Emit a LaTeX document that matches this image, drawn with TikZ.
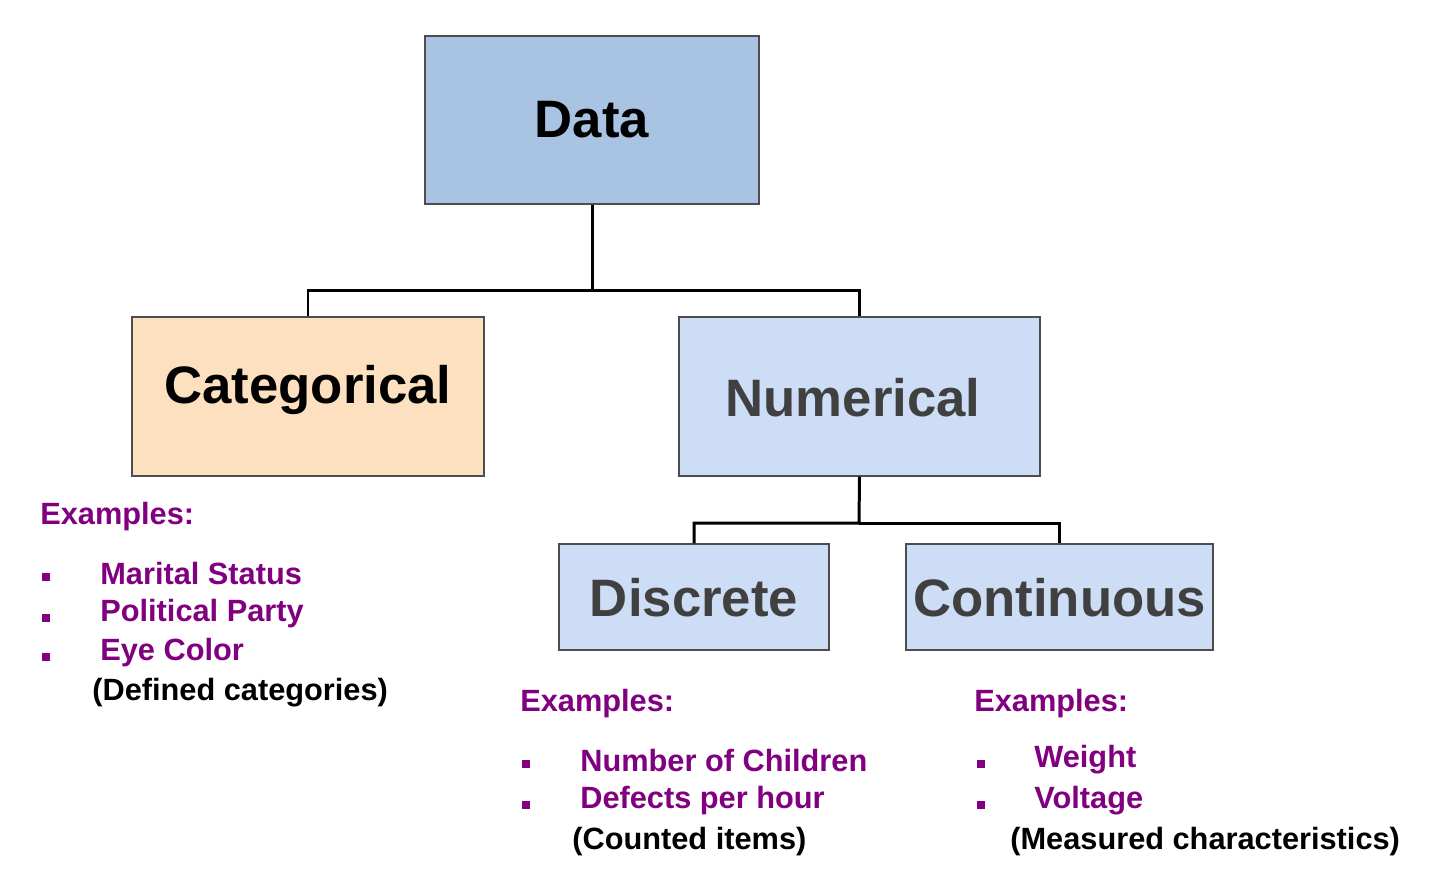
\documentclass[tikz,border=0pt]{standalone}
\usepackage{fontspec}
\setmainfont{Liberation Sans}
\usepackage[HTML]{xcolor}
\usetikzlibrary{positioning}
\definecolor{dataBlue}{HTML}{A9C4E2}
\definecolor{catOrange}{HTML}{FCE0C0}
\definecolor{numBlue}{HTML}{CCDDF5}
\definecolor{exPurple}{HTML}{800080}
\begin{document}
\begin{tikzpicture}[x=0.02cm,y=-0.02cm,
  box/.style={draw=black!70,line width=0.8pt,inner sep=0pt},
  big/.style={font=\fontsize{30}{34}\selectfont\bfseries},
  ex/.style={anchor=west,text=exPurple,font=\fontsize{17.5}{20}\selectfont\bfseries,inner sep=0pt},
  note/.style={anchor=west,font=\fontsize{17.5}{20}\selectfont\bfseries,inner sep=0pt},
  link/.style={line width=1.7pt}]
\useasboundingbox (0,0) rectangle (1432,876);
% boxes
\node[box,fill=dataBlue,minimum width=334*0.02cm,minimum height=168*0.02cm] (data) at (592,120) {};
\node[big] at (data) {Data};
\node[box,fill=catOrange,minimum width=352*0.02cm,minimum height=159*0.02cm] (cat) at (308,396.5) {};
\node[big] at (308,390) {Categorical};
\node[box,fill=numBlue,minimum width=361*0.02cm,minimum height=159*0.02cm] (num) at (859.5,396.5) {};
\node[big,text=black!75] at (853,398) {Numerical};
\node[box,fill=numBlue,minimum width=270*0.02cm,minimum height=106*0.02cm] (disc) at (694,597) {};
\node[big,text=black!75] at (694,598) {Discrete};
\node[box,fill=numBlue,minimum width=307*0.02cm,minimum height=106*0.02cm] (cont) at (1059.5,597) {};
\node[big,text=black!75] at (1059.5,598) {Continuous};
% connectors
\coordinate (j1) at (592,290);
\coordinate (j2) at (859,523);
\draw[link] (data.south) -- (j1) -| (cat.north);
\draw[link] (j1) -| (num.north);
\draw[link] (num.south) -- (j2) -| (disc.north);
\draw[link] (j2) -| (cont.north);
% examples
\node[ex] (catex) at (40,517) {Examples:};
\node[ex] (c1) at (100,573) {Marital Status};
\node[ex] (c2) at (100,614) {Political Party};
\node[ex] (c3) at (100,653) {Eye Color};
\node[note] (cn) at (92,693) {(Defined categories)};
\foreach \y in {577,618,657} \fill[exPurple] (42,\y-4) rectangle (50,\y+4);
\node[ex] (dex) at (520,704) {Examples:};
\node[ex] (d1) at (580,760) {Number of Children};
\node[ex] (d2) at (580,801) {Defects per hour};
\node[note] (dn) at (572,842) {(Counted items)};
\foreach \y in {764,805} \fill[exPurple] (522,\y-4) rectangle (530,\y+4);
\node[ex] (kex) at (974,704) {Examples:};
\node[ex] (k1) at (1034,760) {Weight};
\node[ex] (k2) at (1034,801) {Voltage};
\node[note] (kn) at (1010,842) {(Measured characteristics)};
\foreach \y in {764,805} \fill[exPurple] (977,\y-4) rectangle (985,\y+4);
\end{tikzpicture}
\end{document}
